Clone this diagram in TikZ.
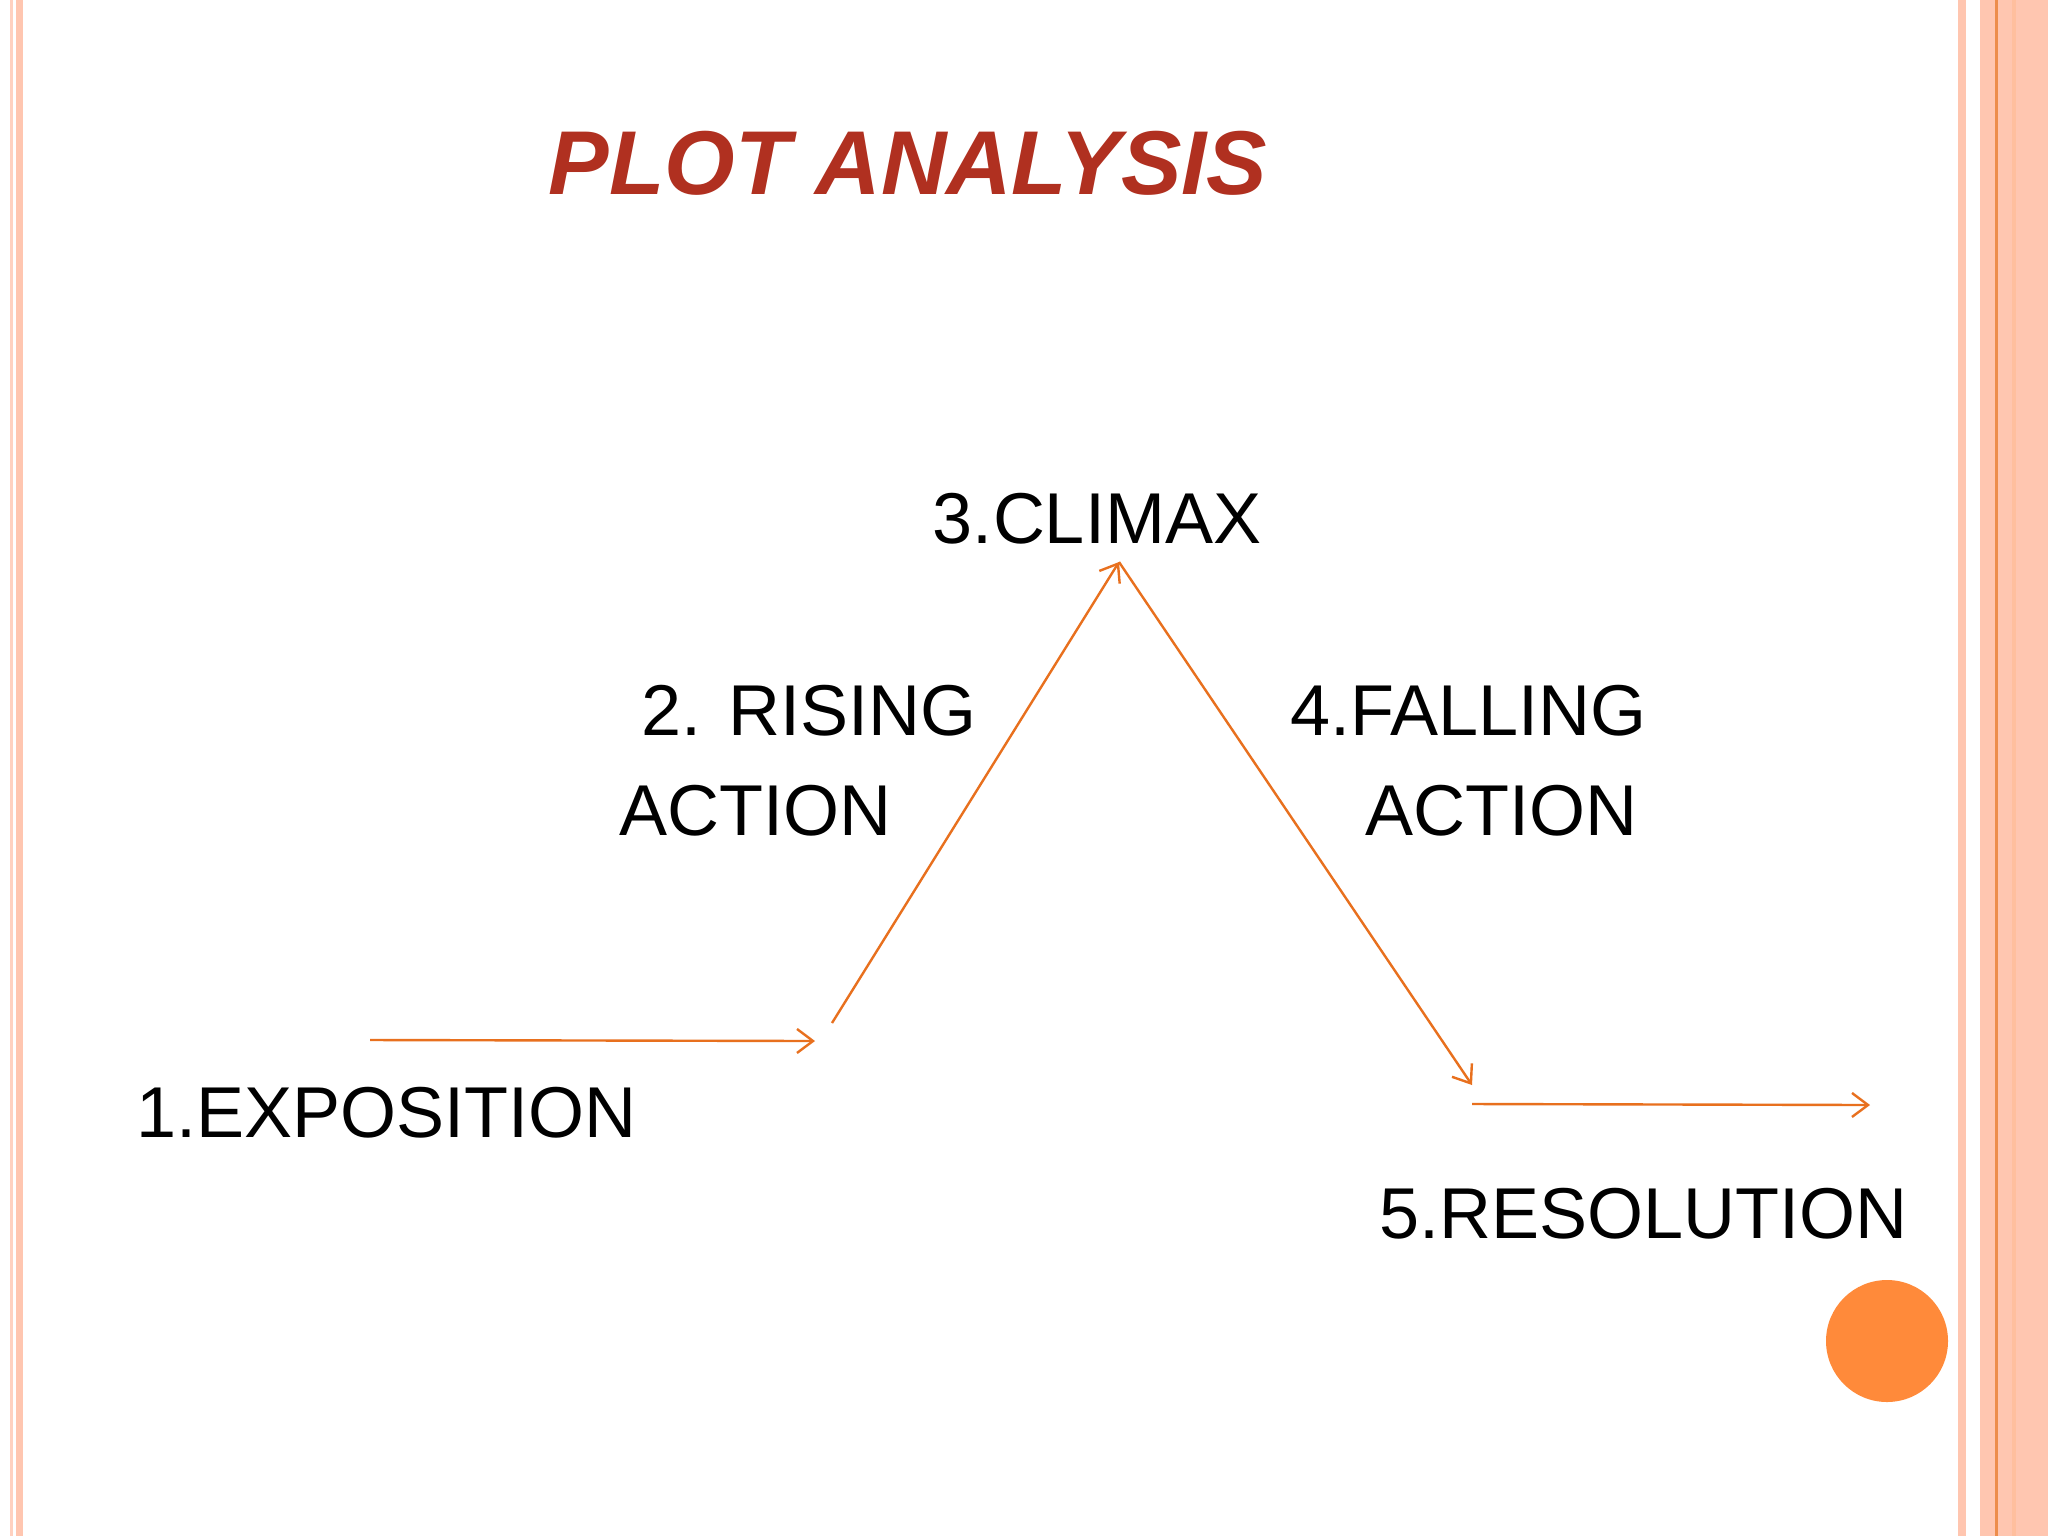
\documentclass[tikz,border=0pt]{standalone}
\usepackage{fontspec}
\setmainfont{Liberation Sans}
\usetikzlibrary{arrows.meta}
\definecolor{pk}{HTML}{FFC6B0}
\definecolor{org}{HTML}{E8701E}
\definecolor{ttl}{HTML}{B03020}
\definecolor{dot}{HTML}{FF8A3A}
\begin{document}
\begin{tikzpicture}[x=0.375pt,y=-0.375pt,
  lbl/.style={anchor=base west,inner sep=0,font=\fontsize{27}{32}\selectfont},
  arr/.style={draw=org,line width=0.9pt,-{Straight Barb[length=6pt,width=9pt]}}]
\useasboundingbox (0,0) rectangle (2048,1536);
\fill[white] (0,0) rectangle (2048,1536);
\fill[pk!80] (10,0) rectangle (13,1536);
\fill[pk] (16,0) rectangle (23,1536);
\fill[pk] (1958,0) rectangle (1966,1536);
\fill[pk] (1980,0) rectangle (2048,1536);
\fill[org!80] (1995,0) rectangle (1998,1536);
\fill[pk!90!orange] (2012,0) rectangle (2016,1536);
\node[font=\fontsize{34}{40}\selectfont\bfseries\itshape,text=ttl] (title) at (908,163) {PLOT ANALYSIS};
\coordinate (a1) at (370,1040); \coordinate (a2) at (815,1041);
\coordinate (b1) at (832,1023); \coordinate (top) at (1119,562);
\coordinate (c2) at (1472,1085);
\coordinate (d1) at (1472,1104); \coordinate (d2) at (1870,1105);
\draw[arr] (a1) -- (a2);
\draw[arr] (b1) -- (top);
\draw[arr] (top) -- (c2);
\draw[arr] (d1) -- (d2);
\node[anchor=base,inner sep=0,font=\fontsize{27}{32}\selectfont] (clim) at (1097,543) {3.CLIMAX};
\node[lbl] (r1) at (641,735) {2. RISING};
\node[lbl] (r2) at (619,835) {ACTION};
\node[lbl] (f1) at (1290,735) {4.FALLING};
\node[lbl] (f2) at (1365,835) {ACTION};
\node[lbl] (ex) at (136,1137) {1.EXPOSITION};
\node[lbl] (res) at (1379,1238) {5.RESOLUTION};
\fill[dot] (1887,1341) circle (61);
\end{tikzpicture}
\end{document}
